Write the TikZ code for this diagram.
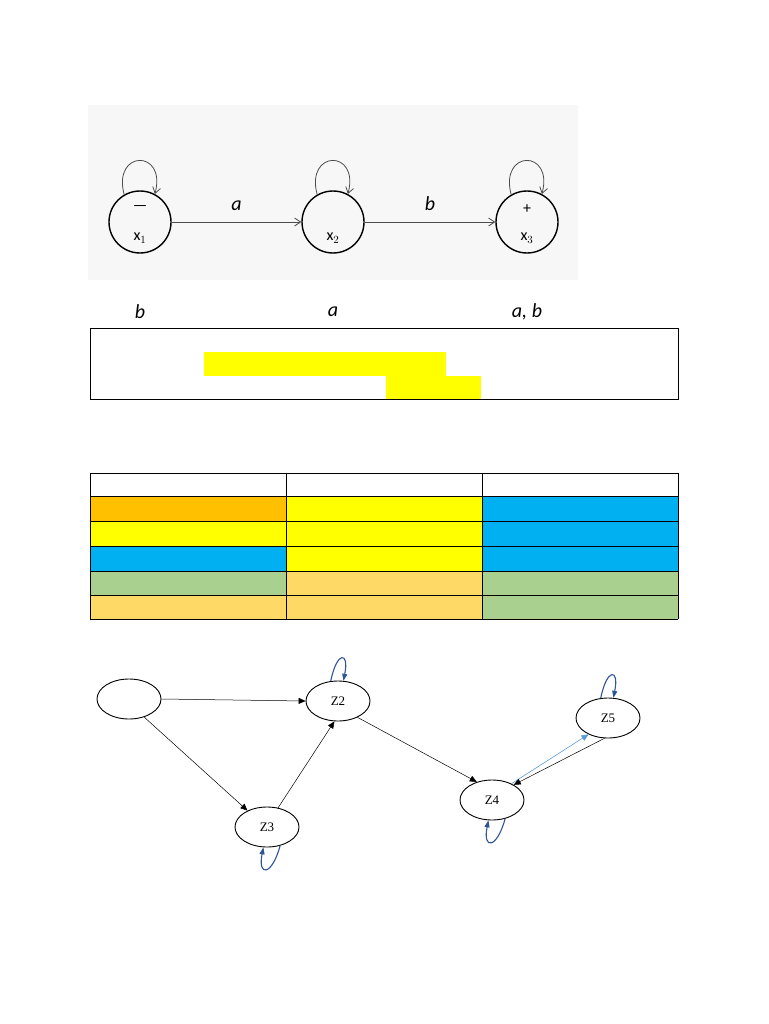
\documentclass[tikz,border=0pt]{standalone}
\usepackage{fontspec}
\setmainfont{Liberation Serif}
\newfontfamily\carlfont{Carlito}
\usetikzlibrary{arrows.meta,shapes.geometric}
\definecolor{orng}{HTML}{FFC000}
\definecolor{yel}{HTML}{FFFF00}
\definecolor{blu}{HTML}{00B0F0}
\definecolor{grn}{HTML}{A9D08E}
\definecolor{lor}{HTML}{FFD966}
\definecolor{loopc}{HTML}{2F5597}
\definecolor{lblu}{HTML}{5B9BD5}
\begin{document}
\begin{tikzpicture}[x=1pt,y=-1pt,
 st/.style={circle,draw,line width=1.4pt,minimum size=62pt,inner sep=0pt},
 lbl/.style={font=\carlfont\itshape\fontsize{20}{20}\selectfont},
 sub/.style={font=\carlfont\fontsize{16}{16}\selectfont},
 ed/.style={draw=black!70,line width=0.8pt,-{Straight Barb[length=6pt,width=8pt]}},
 zn/.style={ellipse,draw,line width=0.9pt,minimum width=64pt,minimum height=40pt,inner sep=0pt,font=\fontsize{13}{13}\selectfont},
 ge/.style={draw,line width=0.5pt,-{Triangle[length=7pt,width=6pt]}},
 lp/.style={draw=loopc,line width=1.1pt,-{Triangle[length=7pt,width=5pt]}}]
\useasboundingbox (0,0) rectangle (768,1024);
\fill[white] (0,0) rectangle (768,1024);
% top automaton
\fill[black!3] (88,105) rectangle (578,280);
\node[st] (x1) at (140,222) {};
\node[st] (x2) at (333,222) {};
\node[st] (x3) at (527,222) {};
\node[sub] (m1) at (140,208) {—};
\node[sub] (s1) at (140,238) {x$_1$};
\node[sub] (s2) at (333,238) {x$_2$};
\node[sub] (p3) at (527,209) {+};
\node[sub] (s3) at (527,238) {x$_3$};
\draw[ed] (x1) -- node[lbl,above=8pt]{a} (x2);
\draw[ed] (x2) -- node[lbl,above=8pt]{b} (x3);
\foreach \n/\t in {x1/b,x2/a,x3/{a, b}}{
 \draw[ed] (\n.120) .. controls +(-12,-45) and +(12,-45) .. (\n.62);
 \node[lbl] at ([yshift=-90pt]\n.center) {\t};
}
% box
\draw[line width=0.8pt] (90,328) rectangle (678,399);
\fill[yel] (204,352) rectangle (446,376);
\fill[yel] (386,376) rectangle (481,398.5);
% table
\foreach \y/\yb/\ca/\cb/\cc in {473/496/white/white/white,496/521/orng/yel/blu,521/546/yel/yel/blu,546/571/blu/yel/blu,571/595/grn/lor/grn,595/619/lor/lor/grn}{
 \fill[\ca] (90,\y) rectangle (286,\yb);
 \fill[\cb] (286,\y) rectangle (482,\yb);
 \fill[\cc] (482,\y) rectangle (678,\yb);
}
\foreach \y in {473,496,521,546,571,595,619} \draw[line width=0.8pt] (90,\y) -- (678,\y);
\foreach \x in {90,286,482,678} \draw[line width=0.8pt] (\x,473) -- (\x,619);
% graph
\node[zn] (z1) at (129,699) {};
\node[zn] (z2) at (338,701) {Z2};
\node[zn] (z3) at (267,827) {Z3};
\node[zn] (z4) at (492,800) {Z4};
\node[zn] (z5) at (608,718) {Z5};
\draw[ge] (z1.east) -- (z2.west);
\draw[ge] (z1.-50) -- (z3.140);
\draw[ge] (z3.60) -- (z2.-100);
\draw[ge] (z2.-40) -- (z4.130);
\draw[ge,draw=lblu,fill=lblu] (z4.40) -- (z5.-140);
\draw[ge] (z5.-100) -- (z4.35);
\draw[lp] (z2.110) .. controls +(6,-30) and +(6,-30) .. (z2.75);
\draw[lp] (z5.110) .. controls +(6,-30) and +(6,-30) .. (z5.75);
\draw[lp] (z3.-55) .. controls +(-8,30) and +(-6,30) .. (z3.-100);
\draw[lp] (z4.-55) .. controls +(-8,30) and +(-6,30) .. (z4.-100);
\end{tikzpicture}
\end{document}
